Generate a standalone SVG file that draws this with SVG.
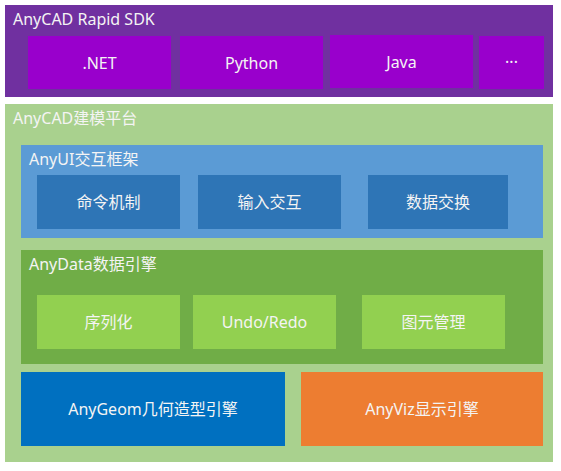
<svg xmlns="http://www.w3.org/2000/svg" width="561" height="471" viewBox="0 0 561 471">
<style>
text{font-family:"Noto Sans","Noto Sans CJK SC",sans-serif;fill:#F4F4F4;font-size:16px}
.c{text-anchor:middle;dominant-baseline:central}
.t{font-size:16px}
</style>
<rect width="561" height="471" fill="#FFFFFF"/>
<g id="sdk">
<rect x="5" y="5" width="548" height="92" fill="#7030A0"/>
<text class="t" x="13" y="25">AnyCAD Rapid SDK</text>
</g>
<g id="net"><rect x="28" y="36" width="143" height="53" fill="#9900CC"/><text class="c" x="99.5" y="63">.NET</text></g>
<g id="python"><rect x="180" y="36" width="143" height="53" fill="#9900CC"/><text class="c" x="251.5" y="63">Python</text></g>
<g id="java"><rect x="330" y="35" width="143" height="53" fill="#9900CC"/><text class="c" x="401.5" y="62">Java</text></g>
<g id="more"><rect x="479" y="36" width="65" height="53" fill="#9900CC"/><text class="c" x="511.5" y="62">···</text></g>
<g id="platform">
<rect x="5" y="104" width="548" height="358" fill="#A9D18E"/>
<text class="t" x="13" y="124">AnyCAD建模平台</text>
</g>
<g id="anyui">
<rect x="21" y="145" width="522" height="93" fill="#5B9BD5"/>
<text class="t" x="29" y="165">AnyUI交互框架</text>
</g>
<g id="cmd"><rect x="37" y="175" width="143" height="54" fill="#2E75B6"/><text class="c" x="108.5" y="202">命令机制</text></g>
<g id="input"><rect x="198" y="175" width="143" height="54" fill="#2E75B6"/><text class="c" x="269.5" y="202">输入交互</text></g>
<g id="exchange"><rect x="368" y="175" width="140" height="54" fill="#2E75B6"/><text class="c" x="438" y="202">数据交换</text></g>
<g id="anydata">
<rect x="21" y="250" width="522" height="114" fill="#70AD47"/>
<text class="t" x="29" y="270">AnyData数据引擎</text>
</g>
<g id="serial"><rect x="37" y="295" width="143" height="54" fill="#92D050"/><text class="c" x="108.5" y="322">序列化</text></g>
<g id="undo"><rect x="193" y="295" width="143" height="54" fill="#92D050"/><text class="c" x="264.5" y="322">Undo/Redo</text></g>
<g id="elem"><rect x="362" y="295" width="143" height="54" fill="#92D050"/><text class="c" x="433.5" y="322">图元管理</text></g>
<g id="geom"><rect x="21" y="372" width="264" height="74" fill="#0070C0"/><text class="c" x="153" y="409">AnyGeom几何造型引擎</text></g>
<g id="viz"><rect x="301" y="372" width="242" height="74" fill="#ED7D31"/><text class="c" x="422" y="409">AnyViz显示引擎</text></g>
<g id="connectors"></g>
</svg>
